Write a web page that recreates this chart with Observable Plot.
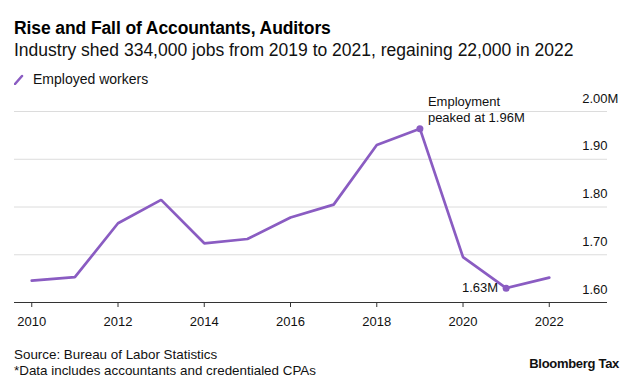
<!DOCTYPE html>
<html>
<head>
<meta charset="utf-8">
<script src="https://cdn.jsdelivr.net/npm/d3@7"></script>
<script src="https://cdn.jsdelivr.net/npm/@observablehq/plot@0.6"></script>
<style>
  html, body { margin: 0; padding: 0; background: #fff; }
  #wrap { position: relative; width: 633px; height: 390px; font-family: "Liberation Sans", Arial, sans-serif; color: #000; overflow: hidden; }
  .t { position: absolute; white-space: nowrap; }
  #title { left: 14px; top: 20px; font-size: 17.5px; line-height: 17.5px; font-weight: bold; letter-spacing: -0.1px; }
  #subtitle { left: 14px; top: 42px; font-size: 17.5px; line-height: 17.5px; color: #111; }
  #legend { left: 14px; top: 72px; font-size: 14px; line-height: 14px; color: #111; }
  #legend svg { position: absolute; left: 0; top: 1px; }
  #legend span { margin-left: 19px; }
  #source { left: 14px; top: 348px; font-size: 13.4px; line-height: 13.4px; color: #111; }
  #note { left: 14px; top: 364px; font-size: 13.4px; line-height: 13.4px; color: #111; }
  #brand { right: 14px; top: 357px; font-size: 13px; line-height: 13px; font-weight: bold; color: #111; letter-spacing: -0.3px; }
  #chart { position: absolute; left: 0; top: 88px; }
</style>
</head>
<body>
<div id="wrap">
  <div class="t" id="title">Rise and Fall of Accountants, Auditors</div>
  <div class="t" id="subtitle">Industry shed 334,000 jobs from 2019 to 2021, regaining 22,000 in 2022</div>
  <div class="t" id="legend"><svg width="12" height="12"><line x1="1" y1="11" x2="8" y2="3" stroke="#8a5cc2" stroke-width="2.5" stroke-linecap="round"/></svg><span>Employed workers</span></div>
  <div id="chart"></div>
  <div class="t" id="source">Source: Bureau of Labor Statistics</div>
  <div class="t" id="note">*Data includes accountants and credentialed CPAs</div>
  <div class="t" id="brand">Bloomberg Tax</div>
</div>
<script>
const years = [2010, 2011, 2012, 2013, 2014, 2015, 2016, 2017, 2018, 2019, 2020, 2021, 2022];
const employed = [1.646, 1.653, 1.766, 1.815, 1.724, 1.733, 1.778, 1.805, 1.930, 1.964, 1.695, 1.630, 1.652];
const xTicks = [2010, 2012, 2014, 2016, 2018, 2020, 2022];
const yTicks = [1.6, 1.7, 1.8, 1.9, 2.0];
const yTickLabels = ["1.60", "1.70", "1.80", "1.90", "2.00"];
const peakLabel = "Employment\npeaked at 1.96M";
const lowLabel = "1.63M";

const purple = "#8a5cc2";
const data = years.map((y, i) => ({year: y, value: employed[i]}));
const peak = data.find(d => d.year === 2019);
const low = data.find(d => d.year === 2021);
const xMax = 2023.35;

const chart = Plot.plot({
  width: 633,
  height: 252,
  marginTop: 23,
  marginBottom: 38,
  marginLeft: 14,
  marginRight: 26,
  style: {fontFamily: "Liberation Sans, Arial, sans-serif", fontSize: "13px", color: "#111", background: "transparent", overflow: "visible"},
  x: {domain: [2009.6, xMax]},
  y: {domain: [1.6, 2.0], axis: null},
  marks: [
    Plot.ruleY(yTicks.slice(1), {stroke: "#dcdcdc", strokeWidth: 1}),
    Plot.text(yTicks, {x: xMax, y: d => d, text: (d, i) => yTickLabels[i], textAnchor: "end", lineAnchor: "middle", dy: -13, fill: "#111", fontSize: 13}),
    Plot.text([2.0], {x: xMax, y: d => d, text: () => "M", textAnchor: "start", lineAnchor: "middle", dy: -13, fill: "#111", fontSize: 13}),
    Plot.ruleY([1.6], {stroke: "#333", strokeWidth: 1}),
    Plot.axisX({ticks: xTicks, tickSize: 5, tickPadding: 9, tickFormat: d => String(d), stroke: "#333", fill: "#111", fontSize: 13, label: null}),
    Plot.line(data, {x: "year", y: "value", stroke: purple, strokeWidth: 2.7, strokeLinejoin: "miter"}),
    Plot.dot([peak, low], {x: "year", y: "value", r: 3.5, fill: purple}),
    Plot.text([peak], {x: "year", y: "value", text: () => peakLabel, textAnchor: "start", lineAnchor: "top", lineHeight: 1.23, dx: 8, dy: -34, fill: "#111", fontSize: 13}),
    Plot.text([low], {x: "year", y: "value", text: () => lowLabel, textAnchor: "end", lineAnchor: "middle", dx: -8, fill: "#111", fontSize: 13})
  ]
});
document.getElementById("chart").appendChild(chart);
</script>
</body>
</html>
